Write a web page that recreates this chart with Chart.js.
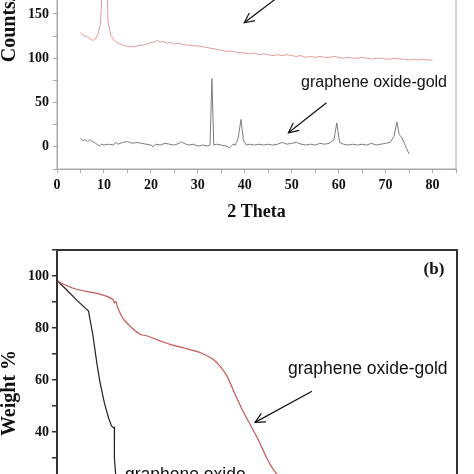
<!DOCTYPE html>
<html><head><meta charset="utf-8">
<script src="https://cdn.jsdelivr.net/npm/chart.js@4.4.1/dist/chart.umd.min.js"></script>
<style>
html,body{margin:0;padding:0;background:#fff;width:474px;height:474px;overflow:hidden;position:relative}
#w1{position:absolute;left:0;top:-150px;width:474px;height:380px}
#w2{position:absolute;left:0;top:230px;width:474px;height:340px}
</style></head><body>
<div id="w1"><canvas id="c1" width="474" height="380"></canvas></div>
<div id="w2"><canvas id="c2" width="474" height="340"></canvas></div>
<script>
// (a) XRD — graphene oxide (upper trace)
const xrdGoX = [5,5.5,6,6.5,7,7.6,8.2,8.8,9.3,9.7,10.1,10.5,10.9,11.5,12,12.7,13.5,14.5,15.6,16.5,17.7,18.5,19.5,20.5,21.3,22,22.6,23.4,24.2,25,26,27,28,29,30,31,32,33,34,35,36,37,38,39,40,41,42,43,44,45,46,47,48,49,50,51,52,53,54,55,56,57,58,59,60,61,62,63,64,65,66,67,68,69,70,71,72,73,74,75,76,77,78,79,80];
const xrdGoY = [129,126,125,124,122,120,122,128,140,190,275,200,140,126,121,118,116,114,113,113,114.5,115,117,118,120,118,119,117,118,116,117,115,115,114,114,113,112,111,110,109,108,108,107,106,106,105,106,104,105,104,103,104,103,104,103,102,103,101,102,101,102,101,101,102,101,100,101,100,100,101,100,99,100,100,99,99,100,99,99,98,99,98,99,98,98];
// (a) XRD — graphene oxide-gold (lower trace)
const xrdAuX = [5,5.5,6,6.5,7,7.5,8,8.5,9,9.5,10,11,12,12.5,13,14,15,16,17,18,19,20,20.5,21,22,23,24,25,26,26.5,27,28,29,30,31,32,32.6,33,33.4,34,35,36,36.8,37.5,38,38.6,39.2,39.7,40.3,41,42,43,44,45,46,47,48,49,50,51,52,53,54,55,56,57,58,59,59.6,60.2,61,62,63,64,65,66,67,68,69,70,71,71.8,72.4,72.9,73.5,74,74.5,75];
const xrdAuY = [9.8,7,8,6,8,6,5,3,1,3,2,3,2,5,3,5,6,4,5,4,3,2,0,3,2,4,3,2,4,6,4,2,3,1,2,1,2,77,2,3,2,1,-1,3,2,10,31,8,2,3,2,3,2,3,2,3,5,3,4,5,3,2,3,2,4,3,4,8,27,5,3,2,3,2,3,2,4,2,3,4,5,12,28,14,10,4,-2,-8];
// (b) TGA — graphene oxide-gold
const tgaAuX = [0,13,39,86,112,115,118,121,133,150,166,179,200,226,256,286,312,326,340,356,372,386,402,416,430,446,470,500];
const tgaAuY = [98.3,96.8,94.9,93,91,89.6,90.2,88,83.4,80,77.6,77,75.5,73.7,72.2,70.6,68,65.3,61.5,54.6,48,43,37.2,31.4,26.4,22.6,20.5,19.5];
// (b) TGA — graphene oxide
const tgaGoX = [0,20,40,63,72,80,86,95,103,109,113,115,114,115.5,117,119];
const tgaGoY = [98.3,94.5,90.6,86.5,77,66,59.1,51,45.5,42.3,41.6,41.8,38,30,24.4,15];
// tick labels
const xrdXLabels = [0,10,20,30,40,50,60,70,80];
const xrdYLabels = [0,50,100,150,200,250,300];
const tgaYLabels = [20,40,60,80,100];

const pts = (xs, ys) => xs.map((x, i) => ({x, y: ys[i]}));
const serif = '"Liberation Serif","Times New Roman",serif';
const sans = '"Liberation Sans",Arial,sans-serif';

const framePlugin = {
  id: 'frame',
  afterDraw(chart, args, opts) {
    const {ctx, chartArea: a, scales} = chart;
    ctx.save();
    ctx.strokeStyle = opts.color; ctx.lineWidth = opts.width;
    ctx.strokeRect(a.left, a.top, a.right - a.left, a.bottom - a.top);
    (opts.arrows || []).forEach(ar => {
      const x1 = scales.x.getPixelForValue(ar.from[0]), y1 = scales.y.getPixelForValue(ar.from[1]);
      const x2 = scales.x.getPixelForValue(ar.to[0]), y2 = scales.y.getPixelForValue(ar.to[1]);
      ctx.strokeStyle = '#111'; ctx.lineWidth = 1.2;
      ctx.beginPath(); ctx.moveTo(x1, y1); ctx.lineTo(x2, y2); ctx.stroke();
      const ang = Math.atan2(y2 - y1, x2 - x1), L = 11, w = 0.45;
      ctx.beginPath();
      ctx.moveTo(x2 - L * Math.cos(ang - w), y2 - L * Math.sin(ang - w));
      ctx.lineTo(x2, y2);
      ctx.lineTo(x2 - L * Math.cos(ang + w), y2 - L * Math.sin(ang + w));
      ctx.stroke();
    });
    (opts.texts || []).forEach(t => {
      ctx.font = t.font; ctx.fillStyle = '#111';
      ctx.textAlign = t.align || 'left'; ctx.textBaseline = 'middle';
      ctx.fillText(t.text, scales.x.getPixelForValue(t.x), scales.y.getPixelForValue(t.y));
    });
    ctx.restore();
  }
};

const tickFont = {family: serif, size: 14, weight: 'bold'};

new Chart(document.getElementById('c1'), {
  type: 'line',
  data: {datasets: [
    {data: pts(xrdGoX, xrdGoY), borderColor: '#e29a9a', borderWidth: 1, pointRadius: 0, tension: 0},
    {data: pts(xrdAuX, xrdAuY), borderColor: '#7c7c7c', borderWidth: 1, pointRadius: 0, tension: 0}
  ]},
  options: {
    responsive: false, animation: false,
    layout: {padding: {left: 0, right: 18, top: 31, bottom: 0}},
    plugins: {legend: {display: false}, tooltip: {enabled: false},
      frame: {color: '#a8a8a8', width: 1,
        arrows: [{from: [57.4, 49.7], to: [49.3, 15.8]}, {from: [49.7, 179.5], to: [39.9, 140]}],
        texts: [{text: 'graphene oxide-gold', x: 52, y: 72, font: '16px ' + sans},
                {text: 'graphene oxide', x: 46, y: 192, font: '16px ' + sans}]}},
    scales: {
      x: {type: 'linear', min: 0, max: 85, afterFit(s) { s.height = 61; },
        border: {display: true, color: '#a8a8a8', width: 1},
        grid: {display: true, drawOnChartArea: false, drawTicks: true, tickLength: 4, color: '#a8a8a8'},
        ticks: {stepSize: 5, autoSkip: false, maxRotation: 0, padding: 4, color: '#111', font: tickFont,
          callback: v => xrdXLabels.includes(v) ? String(v) : ''},
        title: {display: true, text: '2 Theta', color: '#111', font: {family: serif, size: 18, weight: 'bold', lineHeight: 1.2}, padding: {top: 0, bottom: 7}}},
      y: {type: 'linear', min: -25, max: 300, afterFit(s) { s.width = 57; },
        border: {display: true, color: '#a8a8a8', width: 1},
        grid: {display: true, drawOnChartArea: false, drawTicks: true, tickLength: 4, color: '#a8a8a8'},
        ticks: {stepSize: 25, autoSkip: false, padding: 4, color: '#111', font: tickFont,
          callback: v => xrdYLabels.includes(v) ? String(v) : ''},
        title: {display: true, text: 'Counts/s', color: '#111', font: {family: serif, size: 20, weight: 'bold', lineHeight: 1}, padding: 0}}
    }
  },
  plugins: [framePlugin]
});

new Chart(document.getElementById('c2'), {
  type: 'line',
  data: {datasets: [
    {data: pts(tgaAuX, tgaAuY), borderColor: '#c85757', borderWidth: 1.2, pointRadius: 0, tension: 0.3},
    {data: pts(tgaGoX, tgaGoY), borderColor: '#222222', borderWidth: 1.2, pointRadius: 0, tension: 0}
  ]},
  options: {
    responsive: false, animation: false,
    layout: {padding: {left: 0, right: 17, top: 20, bottom: 0}},
    plugins: {legend: {display: false}, tooltip: {enabled: false},
      frame: {color: '#333333', width: 2,
        arrows: [{from: [510, 55.7], to: [396, 43.7]}],
        texts: [{text: 'graphene oxide-gold', x: 462, y: 64.1, font: '17.5px ' + sans},
                {text: '(b)', x: 754, y: 102.6, align: 'center', font: 'bold 17px ' + serif},
                {text: 'graphene oxide', x: 136, y: 23.5, font: '17.5px ' + sans}]}},
    scales: {
      x: {type: 'linear', min: 0, max: 800, afterFit(s) { s.height = 34; },
        border: {display: true, color: '#333', width: 2},
        grid: {display: true, drawOnChartArea: false, drawTicks: true, tickLength: 4, color: '#333'},
        ticks: {stepSize: 100, color: '#111', font: tickFont}},
      y: {type: 'linear', min: 0, max: 110, afterFit(s) { s.width = 57; },
        border: {display: true, color: '#333', width: 2},
        grid: {display: true, drawOnChartArea: false, drawTicks: true, tickLength: 5, color: '#333', lineWidth: 1.5},
        ticks: {stepSize: 10, autoSkip: false, padding: 3, color: '#111', font: tickFont,
          callback: v => tgaYLabels.includes(v) ? String(v) : ''},
        title: {display: true, text: 'Weight %', color: '#111', font: {family: serif, size: 20, weight: 'bold', lineHeight: 1}, padding: 0}}
    }
  },
  plugins: [framePlugin]
});
</script>
</body></html>
